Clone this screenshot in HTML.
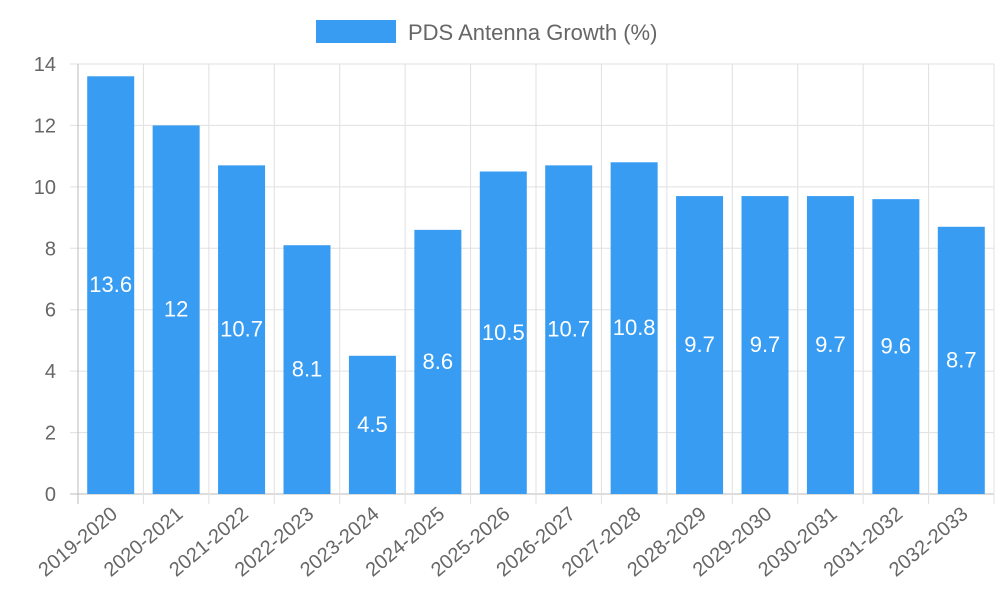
<!DOCTYPE html>
<html><head><meta charset="utf-8"><style>
body{margin:0;background:#fff;font-family:"Liberation Sans",sans-serif}
svg text{font-family:"Liberation Sans",sans-serif}
</style></head><body>
<svg id="chart" width="1000" height="600">
<rect x="316" y="20" width="80" height="23" fill="#379cf2"/>
<text x="408" y="40" font-size="22" fill="#666">PDS Antenna Growth (%)</text>
<g id="grid"></g><g id="bars"></g><g id="labels"></g>
</svg>
<script>
const categories=["2019-2020","2020-2021","2021-2022","2022-2023","2023-2024","2024-2025","2025-2026","2026-2027","2027-2028","2028-2029","2029-2030","2030-2031","2031-2032","2032-2033"];
const values=[13.6,12,10.7,8.1,4.5,8.6,10.5,10.7,10.8,9.7,9.7,9.7,9.6,8.7];
const yTicks=[0,2,4,6,8,10,12,14];
const NS="http://www.w3.org/2000/svg";
const L=78,R=994,T=64,B=494,yMax=14;
const n=categories.length,cw=(R-L)/n;
const y=v=>B-(v/yMax)*(B-T);
const x=i=>L+i*cw;
function mk(tag,attrs,parent){const e=document.createElementNS(NS,tag);for(const k in attrs)e.setAttribute(k,attrs[k]);parent.appendChild(e);return e;}
const grid=document.getElementById('grid'),bars=document.getElementById('bars'),labels=document.getElementById('labels');
yTicks.forEach(t=>{
  const ln=mk('line',{x1:L-8,x2:R,y1:y(t),y2:y(t),stroke:t===0?'#bbb':'#e0e0e0','stroke-width':1},grid);
  
  
  const tx=mk('text',{x:L-22,y:y(t)+7,'text-anchor':'end','font-size':20,fill:'#666'},grid);
  tx.textContent=t;
  
  
});
for(let i=0;i<=n;i++){
  const ln=mk('line',{x1:x(i),x2:x(i),y1:T,y2:B+10,stroke:i===0?'#bbb':'#e0e0e0','stroke-width':1},grid);
  
  
}
categories.forEach((c,i)=>{
  const cx=x(i)+cw/2,bw=47;
  const r=mk('rect',{x:cx-bw/2,y:y(values[i]),width:bw,height:B-y(values[i]),fill:'#379cf2'},bars);
  
  
  const v=mk('text',{x:cx,y:(y(values[i])+B)/2+7,'text-anchor':'middle','font-size':22,fill:'#fff'},labels);
  v.textContent=values[i];
  
  
  const tl=mk('text',{x:cx+8,y:B+22,'text-anchor':'end','font-size':20,fill:'#666',transform:`rotate(-40 ${cx+8} ${B+22})`},labels);
  tl.textContent=c;
  
  
});
</script>
</body></html>
